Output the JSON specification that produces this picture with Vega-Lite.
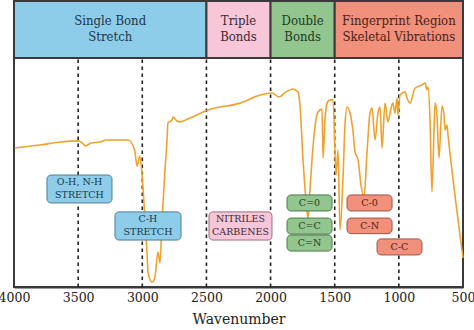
{
  "$schema": "https://vega.github.io/schema/vega-lite/v6.json",
  "width": 449,
  "height": 286,
  "autosize": {"type": "none"},
  "padding": {"left": 14, "top": 1, "right": 11, "bottom": 43},
  "background": "white",
  "view": {"stroke": "#3a3a3a", "strokeWidth": 2},
  "config": {"font": "DejaVu Serif"},
  "datasets": {
    "spectrum": [
      {"w": 3995, "t": 60.7}, {"w": 3800, "t": 62.0}, {"w": 3650, "t": 63.2}, {"w": 3500, "t": 63.8},
      {"w": 3470, "t": 63.0}, {"w": 3440, "t": 61.6}, {"w": 3400, "t": 62.9}, {"w": 3330, "t": 63.3},
      {"w": 3275, "t": 64.2}, {"w": 3200, "t": 64.2}, {"w": 3110, "t": 64.2}, {"w": 3060, "t": 59.8},
      {"w": 3040, "t": 52.8}, {"w": 3020, "t": 57.2}, {"w": 3005, "t": 51.1}, {"w": 2985, "t": 35.0},
      {"w": 2979, "t": 29.3}, {"w": 2963, "t": 14.8}, {"w": 2955, "t": 6.1}, {"w": 2924, "t": 2.2},
      {"w": 2901, "t": 4.4}, {"w": 2878, "t": 15.3}, {"w": 2862, "t": 10.5}, {"w": 2846, "t": 29.3},
      {"w": 2823, "t": 51.1}, {"w": 2807, "t": 64.2}, {"w": 2800, "t": 71.6}, {"w": 2768, "t": 72.9},
      {"w": 2761, "t": 74.2}, {"w": 2730, "t": 72.5}, {"w": 2706, "t": 72.1}, {"w": 2628, "t": 73.8},
      {"w": 2488, "t": 77.3}, {"w": 2238, "t": 80.3}, {"w": 2082, "t": 83.8}, {"w": 1989, "t": 84.7},
      {"w": 1934, "t": 83.0}, {"w": 1880, "t": 85.2}, {"w": 1825, "t": 86.5}, {"w": 1786, "t": 85.2},
      {"w": 1771, "t": 79.5}, {"w": 1747, "t": 55.5}, {"w": 1724, "t": 38.0}, {"w": 1708, "t": 30.1},
      {"w": 1693, "t": 42.4}, {"w": 1677, "t": 55.5}, {"w": 1654, "t": 69.9}, {"w": 1630, "t": 76.4},
      {"w": 1599, "t": 77.7}, {"w": 1591, "t": 56.3}, {"w": 1576, "t": 72.9}, {"w": 1560, "t": 80.3},
      {"w": 1537, "t": 81.7}, {"w": 1513, "t": 81.7}, {"w": 1490, "t": 48.9}, {"w": 1474, "t": 59.8},
      {"w": 1459, "t": 24.9}, {"w": 1436, "t": 46.7}, {"w": 1420, "t": 70.7}, {"w": 1404, "t": 78.6},
      {"w": 1381, "t": 76.0}, {"w": 1357, "t": 67.7}, {"w": 1342, "t": 59.0}, {"w": 1318, "t": 55.5},
      {"w": 1295, "t": 44.5}, {"w": 1272, "t": 38.9}, {"w": 1248, "t": 59.0}, {"w": 1225, "t": 76.0},
      {"w": 1209, "t": 78.2}, {"w": 1186, "t": 64.2}, {"w": 1162, "t": 76.4}, {"w": 1147, "t": 78.6},
      {"w": 1131, "t": 60.7}, {"w": 1108, "t": 80.3}, {"w": 1085, "t": 72.1}, {"w": 1061, "t": 78.2},
      {"w": 1046, "t": 80.3}, {"w": 1030, "t": 76.0}, {"w": 1014, "t": 82.5}, {"w": 1007, "t": 75.1},
      {"w": 991, "t": 83.8}, {"w": 952, "t": 85.2}, {"w": 936, "t": 82.5}, {"w": 913, "t": 80.3},
      {"w": 874, "t": 86.9}, {"w": 820, "t": 88.2}, {"w": 796, "t": 89.1}, {"w": 781, "t": 86.1},
      {"w": 773, "t": 87.3}, {"w": 757, "t": 72.9}, {"w": 742, "t": 41.5}, {"w": 726, "t": 68.6},
      {"w": 718, "t": 80.3}, {"w": 703, "t": 75.1}, {"w": 687, "t": 56.3}, {"w": 664, "t": 79.0},
      {"w": 648, "t": 75.1}, {"w": 640, "t": 68.6}, {"w": 625, "t": 70.7}, {"w": 617, "t": 66.4},
      {"w": 500, "t": 12.7}
    ],
    "regions": [
      {"name": "Single Bond\nStretch", "start": 4000, "end": 2500, "mid": 3250, "group": "single"},
      {"name": "Triple\nBonds", "start": 2500, "end": 2000, "mid": 2250, "group": "triple"},
      {"name": "Double\nBonds", "start": 2000, "end": 1500, "mid": 1750, "group": "double"},
      {"name": "Fingerprint Region\nSkeletal Vibrations", "start": 1500, "end": 500, "mid": 1000, "group": "finger"}
    ],
    "gridlines": [{"w": 3500}, {"w": 3000}, {"w": 2500}, {"w": 2000}, {"w": 1500}, {"w": 1000}],
    "boxes": [
      {"label": "O-H, N-H\nSTRETCH", "x1": 3743, "x2": 3236, "y1": 48.9, "y2": 36.7, "group": "single"},
      {"label": "C-H\nSTRETCH", "x1": 3213, "x2": 2698, "y1": 32.8, "y2": 20.5, "group": "single"},
      {"label": "NITRILES\nCARBENES", "x1": 2480, "x2": 1989, "y1": 32.8, "y2": 20.5, "group": "triple"},
      {"label": "C=0", "x1": 1872, "x2": 1521, "y1": 40.2, "y2": 33.2, "group": "double"},
      {"label": "C=C", "x1": 1872, "x2": 1521, "y1": 30.1, "y2": 23.1, "group": "double"},
      {"label": "C=N", "x1": 1872, "x2": 1521, "y1": 22.7, "y2": 15.7, "group": "double"},
      {"label": "C-0", "x1": 1404, "x2": 1053, "y1": 40.2, "y2": 33.2, "group": "finger"},
      {"label": "C-N", "x1": 1404, "x2": 1053, "y1": 30.1, "y2": 23.3, "group": "finger"},
      {"label": "C-C", "x1": 1170, "x2": 820, "y1": 21.0, "y2": 14.0, "group": "finger"}
    ]
  },
  "layer": [
    {
      "data": {"name": "regions"},
      "mark": {"type": "rect", "stroke": "#3a3a3a", "strokeWidth": 2},
      "encoding": {
        "x": {"field": "start", "type": "quantitative", "scale": {"domain": [500, 4000], "reverse": true, "nice": false, "zero": false},
              "axis": {"values": [4000, 3500, 3000, 2500, 2000, 1500, 1000, 500], "format": "d", "title": "Wavenumber", "grid": false, "ticks": false,
                       "labelPadding": 4, "labelFontSize": 12.5, "labelColor": "#222", "labelFont": "DejaVu Serif", "labelFlush": false,
                       "titleFontSize": 14, "titleFontWeight": "normal", "titleColor": "#222", "titleFont": "DejaVu Serif", "titlePadding": 9,
                       "domainColor": "#3a3a3a", "domainWidth": 2}},
        "x2": {"field": "end"},
        "y": {"datum": 100, "type": "quantitative", "scale": {"domain": [0, 124.9], "nice": false, "zero": false}, "axis": null},
        "y2": {"datum": 124.9},
        "fill": {"field": "group", "type": "nominal", "scale": {"domain": ["single", "triple", "double", "finger"], "range": ["#8DCDE9", "#F7C6D9", "#93C68E", "#F1907B"]}, "legend": null}
      }
    },
    {
      "data": {"name": "regions"},
      "mark": {"type": "text", "fontSize": 13, "lineBreak": "\n", "lineHeight": 16, "baseline": "middle", "align": "center", "font": "DejaVu Serif Condensed", "dy": -8},
      "encoding": {
        "x": {"field": "mid", "type": "quantitative"},
        "y": {"datum": 112.7, "type": "quantitative"},
        "text": {"field": "name"},
        "color": {"field": "group", "type": "nominal", "scale": {"domain": ["single", "triple", "double", "finger"], "range": ["#1E3646", "#3A2A31", "#1F3A1F", "#4A1F17"]}, "legend": null}
      }
    },
    {
      "data": {"name": "gridlines"},
      "mark": {"type": "rule", "color": "#222", "strokeWidth": 1.6, "strokeDash": [3.5, 3.5]},
      "encoding": {
        "x": {"field": "w", "type": "quantitative"},
        "y": {"datum": 0, "type": "quantitative"},
        "y2": {"datum": 100}
      }
    },
    {
      "data": {"name": "spectrum"},
      "mark": {"type": "line", "color": "#F0A22E", "strokeWidth": 1.6, "interpolate": "monotone"},
      "encoding": {
        "x": {"field": "w", "type": "quantitative", "sort": null},
        "y": {"field": "t", "type": "quantitative"},
        "order": {"field": "w", "sort": "descending"}
      }
    },
    {
      "data": {"name": "boxes"},
      "mark": {"type": "rect", "cornerRadius": 4, "strokeWidth": 1},
      "encoding": {
        "x": {"field": "x1", "type": "quantitative"},
        "x2": {"field": "x2"},
        "y": {"field": "y1", "type": "quantitative"},
        "y2": {"field": "y2"},
        "fill": {"field": "group", "type": "nominal", "scale": {"domain": ["single", "triple", "double", "finger"], "range": ["#8DCDE9", "#F7C6D9", "#93C68E", "#F1907B"]}, "legend": null},
        "stroke": {"field": "group", "type": "nominal", "scale": {"domain": ["single", "triple", "double", "finger"], "range": ["#4F7D96", "#9B6E80", "#4E7A4A", "#9A5447"]}, "legend": null}
      }
    },
    {
      "data": {"name": "boxes"},
      "transform": [
        {"filter": "indexof(datum.label, '\\n') >= 0"},
        {"calculate": "(datum.x1 + datum.x2) / 2", "as": "cx"},
        {"calculate": "(datum.y1 + datum.y2) / 2", "as": "cy"}
      ],
      "mark": {"type": "text", "fontSize": 9.5, "lineBreak": "\n", "lineHeight": 13, "baseline": "middle", "align": "center", "font": "DejaVu Serif", "dy": -6.5},
      "encoding": {
        "x": {"field": "cx", "type": "quantitative"},
        "y": {"field": "cy", "type": "quantitative"},
        "text": {"field": "label"},
        "color": {"field": "group", "type": "nominal", "scale": {"domain": ["single", "triple", "double", "finger"], "range": ["#1E3646", "#3A2A31", "#1F3A1F", "#4A1F17"]}, "legend": null}
      }
    },
    {
      "data": {"name": "boxes"},
      "transform": [
        {"filter": "indexof(datum.label, '\\n') < 0"},
        {"calculate": "(datum.x1 + datum.x2) / 2", "as": "cx"},
        {"calculate": "(datum.y1 + datum.y2) / 2", "as": "cy"}
      ],
      "mark": {"type": "text", "fontSize": 9.5, "baseline": "middle", "align": "center", "font": "DejaVu Serif"},
      "encoding": {
        "x": {"field": "cx", "type": "quantitative"},
        "y": {"field": "cy", "type": "quantitative"},
        "text": {"field": "label"},
        "color": {"field": "group", "type": "nominal", "scale": {"domain": ["single", "triple", "double", "finger"], "range": ["#1E3646", "#3A2A31", "#1F3A1F", "#4A1F17"]}, "legend": null}
      }
    }
  ]
}
